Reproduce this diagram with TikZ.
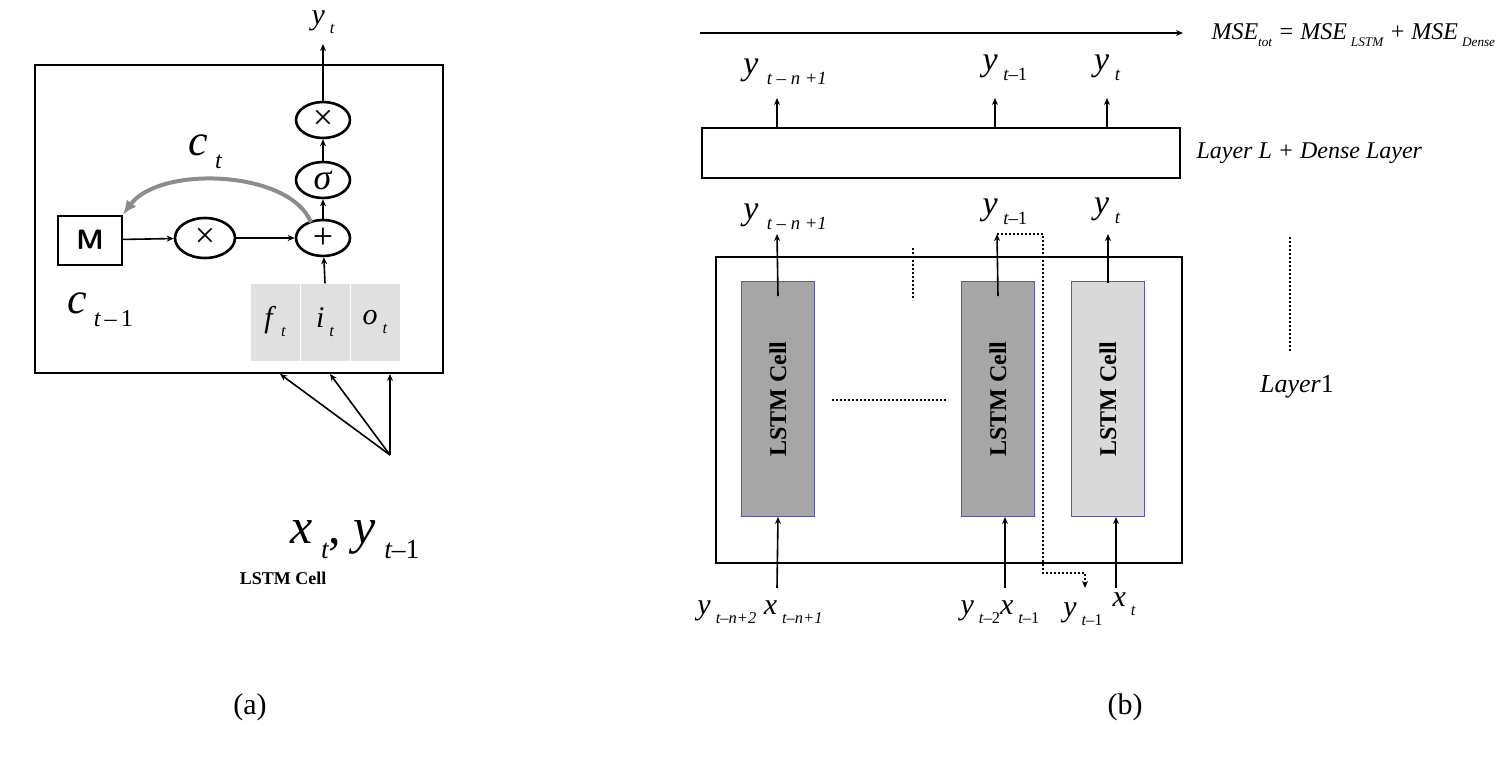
\documentclass[tikz,border=0pt]{standalone}
\usepackage{fontspec}
\setmainfont{Liberation Serif}
\usetikzlibrary{arrows.meta,shapes.geometric}
\newcommand\sbs[1]{\raisebox{-0.3em}{\scalebox{0.55}{\itshape #1}}}
\newcommand\vr[2]{\textit{#1}\,\sbs{#2}}
\begin{document}
\begin{tikzpicture}[x=1pt,y=-1pt,
  ln/.style={line width=2pt},
  arr/.style={line width=1.6pt,-{Stealth[length=7pt,width=6pt]}},
  op/.style={ellipse,draw,line width=2.6pt,minimum width=54pt,minimum height=36pt,inner sep=0pt,font=\fontsize{36}{38}\selectfont},
  gate/.style={fill=black!12,minimum width=49pt,minimum height=77pt,inner sep=0pt,font=\fontsize{30}{32}\selectfont},
  lbl/.style={font=\fontsize{30}{32}\selectfont,inner sep=0pt},
  mlbl/.style={font=\fontsize{34}{36}\selectfont,inner sep=0pt},
  blbl/.style={font=\fontsize{30}{32}\selectfont,inner sep=0pt},
  cell/.style={draw=blue!30!gray,line width=0.8pt,minimum width=73pt,minimum height=235pt,inner sep=0pt},
  celltxt/.style={rotate=90,font=\fontsize{24}{26}\selectfont\bfseries},
  dot/.style={line width=2pt,dotted}]
\useasboundingbox (0,0) rectangle (1499,768);
% ---------- (a)
\node[draw,ln,minimum width=408pt,minimum height=308pt,inner sep=0pt] (boxa) at (239,219) {};
\node[lbl] (yt) at (323,22) {\vr{y}{t}};
\node[op] (mo) at (323,120) {×};
\node[op] (sg) at (323,180) {\textit{σ}};
\node[op] (pl) at (323,238) {+};
\node[op,minimum width=60pt,minimum height=40pt] (mx) at (205,238) {×};
\node[draw,ln,minimum width=64pt,minimum height=49pt,font=\fontsize{28}{30}\selectfont\sffamily\bfseries] (M) at (90,240) {M};
\node[gate] (f) at (275,322) {\vr{f}{t}};
\node[gate] (i) at (325,322) {\vr{i}{t}};
\node[gate] (o) at (375,322) {\vr{o}{t}};
\draw[arr] (mo.north) -- (323,44);
\draw[arr] (sg) -- (mo);
\draw[arr] (pl) -- (sg);
\draw[arr] (i.north) -- (pl);
\draw[arr] (M) -- (mx);
\draw[arr] (mx) -- (pl);
\draw[line width=4pt,black!45,-{Latex[length=14pt,width=12pt]}] (pl.north west) ++(8,-2) .. controls (290,170) and (160,165) .. (M.north east);
\node[font=\fontsize{44}{46}\selectfont,inner sep=0pt] (ct) at (205,152) {\vr{c}{t}};
\node[font=\fontsize{44}{46}\selectfont,inner sep=0pt] (ctm) at (100,310) {\textit{c}\,\sbs{t\,–\,\upshape 1}};
\coordinate (src) at (390,455);
\draw[arr] (src) -- (280,374);
\draw[arr] (src) -- (330,374);
\draw[arr] (src) -- (390,374);
\node[font=\fontsize{50}{52}\selectfont,inner sep=0pt] (xy) at (355,540) {\vr{x}{t}, \vr{y}{t\upshape –1}};
\node[font=\fontsize{18}{20}\selectfont\bfseries] (lc) at (283,578) {LSTM Cell};
\node[font=\fontsize{30}{32}\selectfont] (la) at (250,707) {(a)};
\node[font=\fontsize{30}{32}\selectfont] (lb) at (1125,707) {(b)};
% ---------- (b)
\coordinate (t0) at (700,33); \coordinate (t1) at (1183,33);
\draw[arr] (t0) -- (t1);
\node[anchor=west,font=\fontsize{24}{26}\selectfont\itshape] (mse) at (1208,35) {MSE\sbs{tot} = MSE\,\sbs{LSTM} + MSE\,\sbs{Dense}};
\node[draw,ln,minimum width=478pt,minimum height=50pt,inner sep=0pt] (dense) at (941,153) {};
\node[anchor=west,font=\fontsize{24}{26}\selectfont\itshape] (ll) at (1193,153) {Layer L + Dense Layer};
\node[mlbl] (o1) at (785,72) {\textit{y}\ \sbs{t – n +1}};
\node[mlbl] (o2) at (1005,68) {\vr{y}{t\upshape –1}};
\node[mlbl] (o3) at (1107,68) {\vr{y}{t}};
\draw[arr] (777,128) -- (777,98);
\draw[arr] (995,128) -- (995,98);
\draw[arr] (1107,128) -- (1107,98);
\draw[dot] (1290,237) -- (1290,352);
\node[font=\fontsize{26}{28}\selectfont\itshape] (l1) at (1297,387) {Layer\upshape 1};
\node[mlbl] (m1) at (785,217) {\textit{y}\ \sbs{t – n +1}};
\node[mlbl] (m2) at (1005,212) {\vr{y}{t\upshape –1}};
\node[mlbl] (m3) at (1107,211) {\vr{y}{t}};
\draw[dot] (913,248) -- (913,300);
\node[draw,ln,minimum width=466pt,minimum height=306pt,inner sep=0pt] (outer) at (949,410) {};
\node[cell,fill=black!35] (c1) at (778,399) {};
\node[cell,fill=black!35] (c2) at (998,399) {};
\node[cell,fill=black!15] (c3) at (1108,399) {};
\node[celltxt] at (c1) {LSTM Cell};
\node[celltxt] at (c2) {LSTM Cell};
\node[celltxt] at (c3) {LSTM Cell};
\draw[arr] ([yshift=-15pt]c1.north) -- (777,234);
\draw[arr] ([yshift=-15pt]c2.north) -- (997,234);
\draw[arr] ([yshift=-2pt]c3.north) -- (1108,234);
\draw[dot] (832,400) -- (948,400);
\draw[line width=2pt,dotted,-{Stealth[length=7pt,width=6pt]}] (997,234) -- (1043,234) -- (1043,573) -- (1085,573) -- (1085,588);
\draw[arr] (777,588) -- (c1.south);
\draw[arr] (1005,588) -- (1005,517);
\draw[arr] (1116,588) -- (1116,517);
\node[blbl] (b1) at (760,612) {\vr{y}{t–n+2} \vr{x}{t–n+1}};
\node[blbl] (b2) at (1000,612) {\vr{y}{t\upshape –2}\vr{x}{t\upshape –1}};
\node[blbl] (b3) at (1083,614) {\vr{y}{t\upshape –1}};
\node[blbl] (b4) at (1124,604) {\vr{x}{t}};
\end{tikzpicture}
\end{document}
